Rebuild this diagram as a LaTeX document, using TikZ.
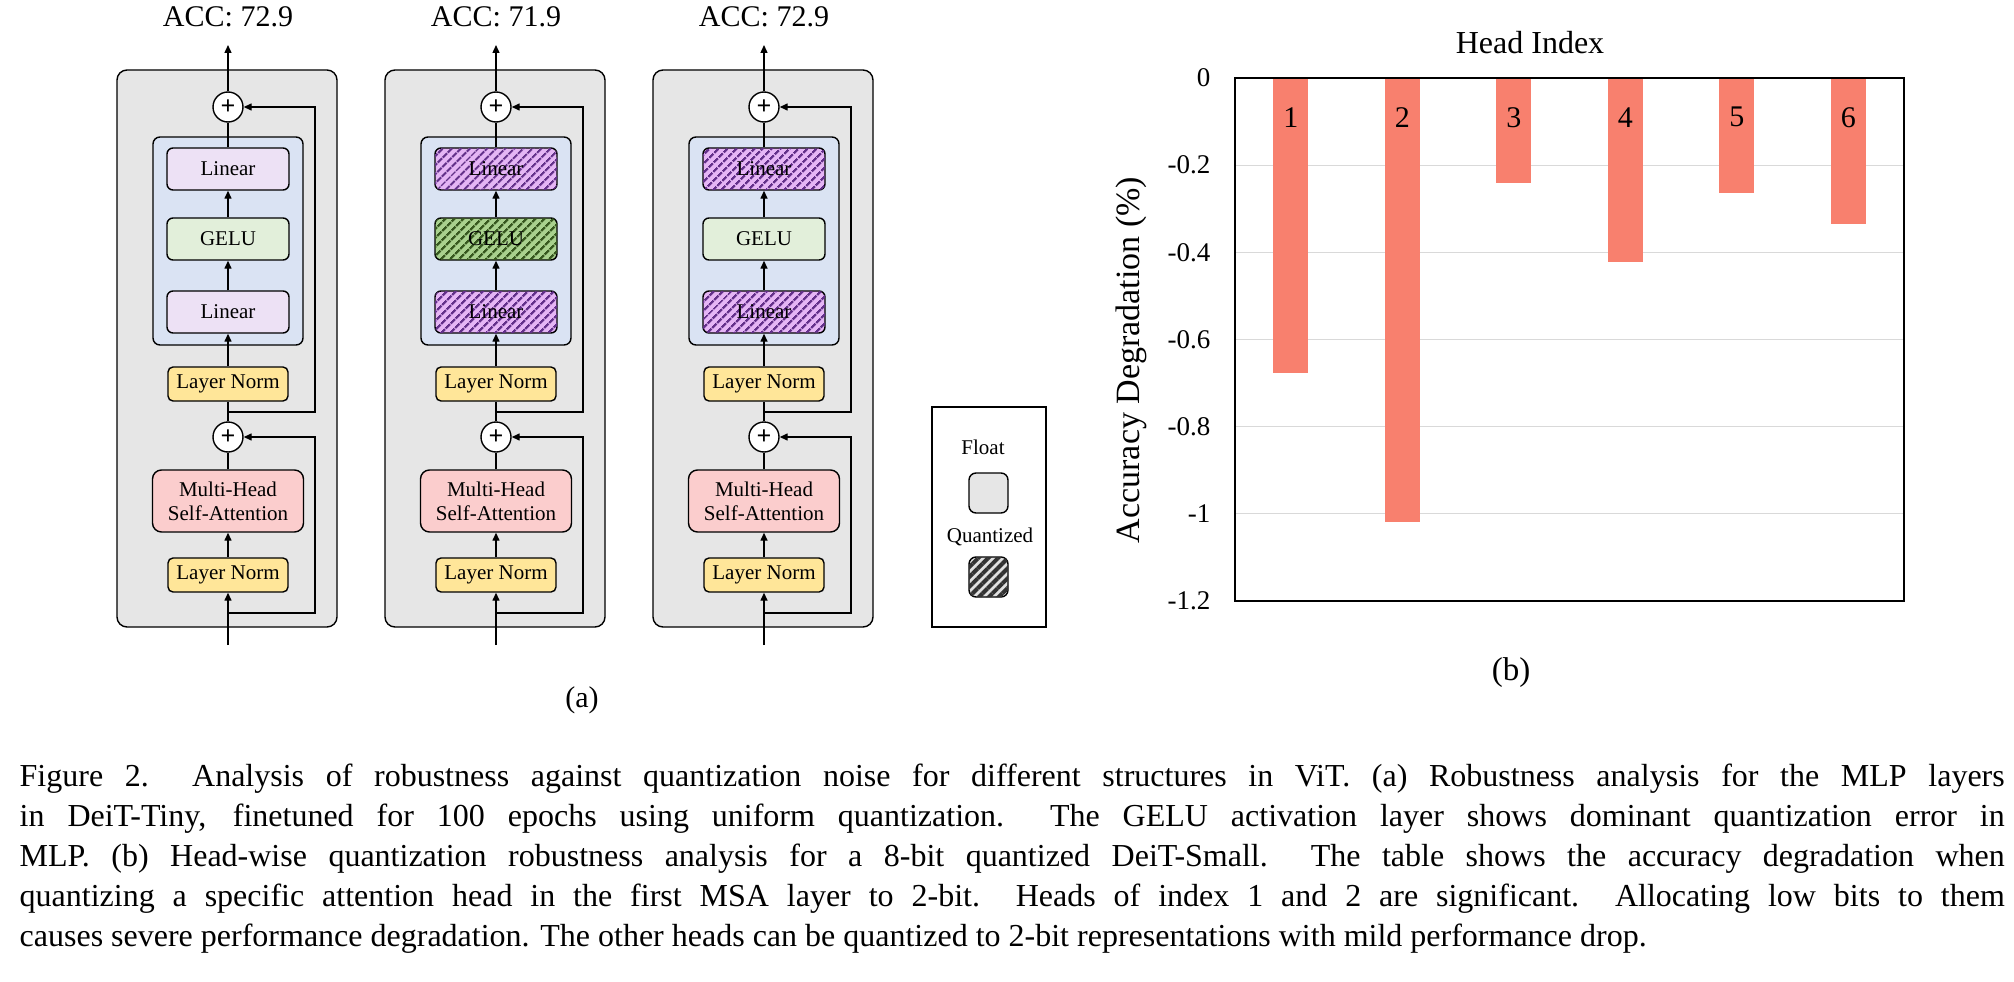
\documentclass[tikz,border=0pt]{standalone}
\usepackage{fontspec}
\setmainfont{Liberation Serif}
\usetikzlibrary{arrows.meta,patterns.meta}

\definecolor{outergray}{HTML}{E6E6E6}
\definecolor{mlpblue}{HTML}{DAE3F3}
\definecolor{linpurple}{HTML}{EDE1F5}
\definecolor{gelugreen}{HTML}{E2EFDA}
\definecolor{lnyellow}{HTML}{FFE699}
\definecolor{msapink}{HTML}{FBCDCD}
\definecolor{qpurple}{HTML}{E5B5F5}
\definecolor{qpurpledark}{HTML}{63308A}
\definecolor{qgreen}{HTML}{A9D18E}
\definecolor{qgreendark}{HTML}{37581F}
\definecolor{barsalmon}{HTML}{F8806E}
\definecolor{gridgray}{HTML}{D9D9D9}

\tikzset{
  >={Triangle[length=8pt,width=7pt]},
  every node/.style={font=\fontsize{21}{24}\selectfont},
  outerbox/.style={draw,fill=outergray,rounded corners=10pt},
  mlpbox/.style={draw,fill=mlpblue,rounded corners=7pt},
  box/.style={draw,rounded corners=6pt,inner sep=0pt,minimum width=122pt,minimum height=42pt},
  flin/.style={box,fill=linpurple},
  fgelu/.style={box,fill=gelugreen},
  qlin/.style={box,fill=qpurple,postaction={pattern={Lines[angle=45,distance=6.5pt,line width=2.6pt]},pattern color=qpurpledark}},
  qgelu/.style={box,fill=qgreen,postaction={pattern={Lines[angle=45,distance=6.5pt,line width=2.6pt]},pattern color=qgreendark}},
  lnbox/.style={box,fill=lnyellow,minimum width=120pt,minimum height=34pt,rounded corners=5pt},
  msabox/.style={box,fill=msapink,minimum width=151pt,minimum height=62pt,rounded corners=9pt,align=center},
  plus/.style={draw,circle,fill=white,inner sep=0pt,minimum size=30pt,font=\fontsize{26}{26}\selectfont\bfseries},
  keybox/.style={draw,rounded corners=7pt,minimum width=39pt,minimum height=40pt},
  qkey/.style={fill=black!12,postaction={pattern={Lines[angle=45,distance=7pt,line width=4pt]},pattern color=black!80}},
}

\begin{document}
\begin{tikzpicture}[x=1pt,y=-1pt,line width=1.4pt]
    \useasboundingbox[fill=white] (0,0) rectangle (2014,982);

    % (a) three ViT blocks
    \foreach \i/\acc/\lst/\gst in {0/72.9/flin/fgelu,1/71.9/qlin/qgelu,2/72.9/qlin/fgelu}{
    \begin{scope}[xshift=\i*268pt]
        \draw[outerbox] (117,70) rectangle (337,627);
        \draw[mlpbox] (153,137) rectangle (303,345);
        \node[font=\fontsize{30}{30}\selectfont] (acc\i) at (228,17) {ACC: \acc};
        \coordinate (out\i) at (228,45);
        \node[plus] (pt\i) at (228,107) {+};
        \node[\lst] (lint\i) at (228,169) {Linear};
        \node[\gst] (gelu\i) at (228,239) {GELU};
        \node[\lst] (linb\i) at (228,312) {Linear};
        \node[lnbox] (lnt\i) at (228,384) {Layer Norm};
        \coordinate (sb\i) at (228,412);
        \node[plus] (pb\i) at (228,437) {+};
        \node[msabox] (msa\i) at (228,501) {Multi-Head\\Self-Attention};
        \node[lnbox] (lnb\i) at (228,575) {Layer Norm};
        \coordinate (sa\i) at (228,613);
        \coordinate (in\i) at (228,645);

        \draw[->] (in\i) -- (lnb\i);
        \draw[->] (lnb\i) -- (msa\i);
        \draw (msa\i) -- (pb\i);
        \draw (pb\i) -- (lnt\i);
        \draw[->] (lnt\i) -- (linb\i);
        \draw[->] (linb\i) -- (gelu\i);
        \draw[->] (gelu\i) -- (lint\i);
        \draw (lint\i) -- (pt\i);
        \draw[->] (pt\i) -- (out\i);
        \draw[->] (sa\i) -- ++(87,0) |- (pb\i);
        \draw[->] (sb\i) -- ++(87,0) |- (pt\i);
    \end{scope}
    }

    % legend
    \draw (932,407) rectangle (1046,627);
    \node (flt) at (983,447) {Float};
    \node[keybox,fill=outergray] (fltkey) at (988.5,493) {};
    \node (qnt) at (990,537) {Quantized};
    \node[keybox,qkey] (qntkey) at (988.5,577) {};
    \node[font=\fontsize{30}{30}\selectfont] (capa) at (582,700) {(a)};

    % (b) head-wise degradation
    \node[font=\fontsize{32}{32}\selectfont] (htitle) at (1530,43) {Head Index};
    \node[rotate=90,font=\fontsize{34}{34}\selectfont] (ylab) at (1131,360) {Accuracy Degradation (\%)};
    \node[font=\fontsize{33}{33}\selectfont] (capb) at (1511,673) {(b)};
    \begin{scope}[shift={(1235,78)},x=111.5pt,y=435.8pt]
        \foreach \t in {-0.2,-0.4,-0.6,-0.8,-1.0}
            \draw[gridgray,line width=1.2pt] (0,\t) -- (6,\t);
        \foreach \k/\v in {1/-0.677,2/-1.019,3/-0.241,4/-0.422,5/-0.264,6/-0.335}{
            \fill[barsalmon] (\k-0.657,0) rectangle (\k-0.343,\v);
            \node[font=\fontsize{30}{30}\selectfont] (h\k) at (\k-0.5,-0.09) {\k};
        }
        \draw[line width=1.2pt] (0,0) rectangle (6,-1.2);
        \foreach \t/\lab in {0/0,-0.2/-0.2,-0.4/-0.4,-0.6/-0.6,-0.8/-0.8,-1/-1,-1.2/-1.2}
            \node[anchor=east,inner sep=0pt,font=\fontsize{27}{27}\selectfont] (tick\lab) at (-0.215,\t) {\lab};
    \end{scope}

    % caption
    \node[anchor=north west,inner sep=0pt,text width=1985pt,align=justify,
          font=\fontsize{32}{40}\selectfont] (caption) at (19,763) {%
        Figure 2.\ \ Analysis of robustness against quantization noise for different structures in ViT. (a) Robustness analysis for the MLP layers\linebreak
        in DeiT-Tiny, finetuned for 100 epochs using uniform quantization.\ \ The GELU activation layer shows dominant quantization error in\linebreak
        MLP. (b) Head-wise quantization robustness analysis for a 8-bit quantized DeiT-Small.\ \ The table shows the accuracy degradation when\linebreak
        quantizing a specific attention head in the first MSA layer to 2-bit.\ \ Heads of index 1 and 2 are significant.\ \ Allocating low bits to them\linebreak
        causes severe performance degradation. The other heads can be quantized to 2-bit representations with mild performance drop.};
\end{tikzpicture}
\end{document}
